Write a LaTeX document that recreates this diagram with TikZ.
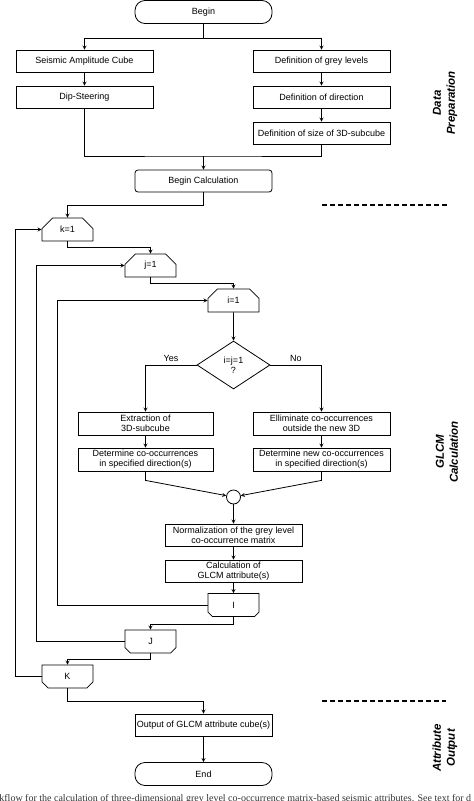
\documentclass[tikz,border=0pt]{standalone}
\usepackage{fontspec}
\setmainfont{Liberation Sans}
\newfontfamily\captionserif{Liberation Serif}
\usetikzlibrary{shapes.geometric,shapes.misc,positioning}

\tikzset{
  terminal/.style={rectangle, rounded corners=10pt, draw, minimum width=137pt, minimum height=23pt, inner sep=1pt},
  stepbox/.style={rectangle, draw, minimum width=137pt, minimum height=22pt, inner sep=1pt, align=center},
  loopstart/.style={chamfered rectangle, chamfered rectangle corners={north west,north east},
    chamfered rectangle xsep=7pt, chamfered rectangle ysep=9pt, draw, minimum width=51pt, minimum height=23pt, inner sep=0pt},
  loopend/.style={chamfered rectangle, chamfered rectangle corners={south west,south east},
    chamfered rectangle xsep=7pt, chamfered rectangle ysep=9pt, draw, minimum width=51pt, minimum height=23pt, inner sep=0pt},
  decision/.style={diamond, draw, minimum width=73pt, minimum height=48pt, inner sep=0pt, align=center},
  joint/.style={circle, draw, minimum size=14pt, inner sep=0pt},
  phase/.style={rotate=90, align=center, font=\fontsize{11.5}{14}\selectfont\bfseries\itshape},
  sepline/.style={dashed, line width=1.8pt, dash pattern=on 5pt off 3pt}
}

\begin{document}
\begin{tikzpicture}[x=1pt, y=-1pt, node distance=36pt, line width=0.8pt, >=stealth,
    font=\fontsize{9}{10}\selectfont]
    \useasboundingbox (0,0) rectangle (474,801);

    % data preparation
    \node (begin) [terminal] at (203.5,12) {Begin};
    \node (seis) [stepbox] at (84.5,61) {Seismic Amplitude Cube};
    \node (dip) [stepbox, below of=seis] {Dip-Steering};
    \node (grey) [stepbox] at (321.5,61) {Definition of grey levels};
    \node (direc) [stepbox, below of=grey] {Definition of direction};
    \node (subsize) [stepbox, below of=direc] {Definition of size of 3D-subcube};
    \node (begcalc) [stepbox, rounded corners=3pt] at (203.5,181) {Begin Calculation};

    \coordinate (split) at (203.5,38);
    \coordinate (merge) at (203.5,156);
    \draw (begin) -- (split);
    \draw[->] (split) -| (seis);
    \draw[->] (split) -| (grey);
    \draw[->] (seis) -- (dip);
    \draw[->] (grey) -- (direc);
    \draw[->] (direc) -- (subsize);
    \draw (dip) |- (merge) -| (subsize);
    \draw[->] (merge) -- (begcalc);

    % loops
    \node (kstart) [loopstart] at (67.5,229.5) {k=1};
    \node (jstart) [loopstart] at (150.5,265.5) {j=1};
    \node (istart) [loopstart] at (233.5,300.5) {i=1};
    \node (test) [decision] at (233.5,365) {i=j=1\\?};

    \draw[->] (begcalc.south) -- ++(0,13) -| (kstart.north);
    \draw[->] (kstart.south) -- ++(0,6) -| (jstart.north);
    \draw[->] (jstart.south) -- ++(0,6) -| (istart.north);
    \draw[->] (istart) -- (test);

    \node (extract) [stepbox, minimum width=135pt, minimum height=23pt] at (145.5,423.5) {Extraction of\\3D-subcube};
    \node (detdir) [stepbox, minimum width=135pt, minimum height=23pt, below of=extract] {Determine co-occurrences\\in specified direction(s)};
    \node (elim) [stepbox, minimum height=23pt] at (321.5,423.5) {Elliminate co-occurrences\\outside the new 3D};
    \node (detnew) [stepbox, minimum height=23pt, below of=elim] {Determine new co-occurrences\\in specified direction(s)};

    \draw[->] (test.west) -| node[above, pos=0.25] {Yes} (extract.north);
    \draw[->] (test.east) -| node[above, pos=0.25] {No} (elim.north);
    \draw[->] (extract) -- (detdir);
    \draw[->] (elim) -- (detnew);

    \node (join) [joint] at (233.5,497) {};
    \node (norm) [stepbox] at (233.5,535) {Normalization of the grey level\\co-occurrence matrix};
    \node (calc) [stepbox, below of=norm] {Calculation of\\GLCM attribute(s)};

    \draw[->] (detdir.south) -- ++(0,9) -- (join);
    \draw[->] (detnew.south) -- ++(0,9) -- (join);
    \draw[->] (join) -- (norm);
    \draw[->] (norm) -- (calc);

    \node (iend) [loopend] at (233.5,605) {I};
    \node (jend) [loopend] at (150.5,641.5) {J};
    \node (kend) [loopend] at (67.5,676.5) {K};

    \draw[->] (calc) -- (iend);
    \draw[->] (iend.west) -- ++(-150,0) |- (istart.west);
    \draw[->] (iend.south) -- ++(0,7) -| (jend.north);
    \draw[->] (jend.west) -- ++(-88,0) |- (jstart.west);
    \draw[->] (jend.south) -- ++(0,6) -| (kend.north);
    \draw[->] (kend.west) -- ++(-26,0) |- (kstart.west);

    % attribute output
    \node (output) [stepbox] at (203.5,725) {Output of GLCM attribute cube(s)};
    \node (end) [terminal] at (203.5,774) {End};

    \draw[->] (kend.south) -- ++(0,13) -| (output.north);
    \draw[->] (output) -- (end);

    % phases
    \draw[sepline] (322,205) -- (447,205);
    \draw[sepline] (322,701) -- (446,701);
    \node (prep) [phase] at (445,103) {Data\\Preparation};
    \node (glcm) [phase] at (447,452) {GLCM\\Calculation};
    \node (attout) [phase] at (445,748) {Attribute\\Output};

    \node (caption) [anchor=base west, inner sep=0pt, font=\captionserif\fontsize{10}{11}\selectfont, text=black!80] at (-1,801)
      {kflow for the calculation of three-dimensional grey level co-occurrence matrix-based seismic attributes. See text for d};
\end{tikzpicture}
\end{document}
